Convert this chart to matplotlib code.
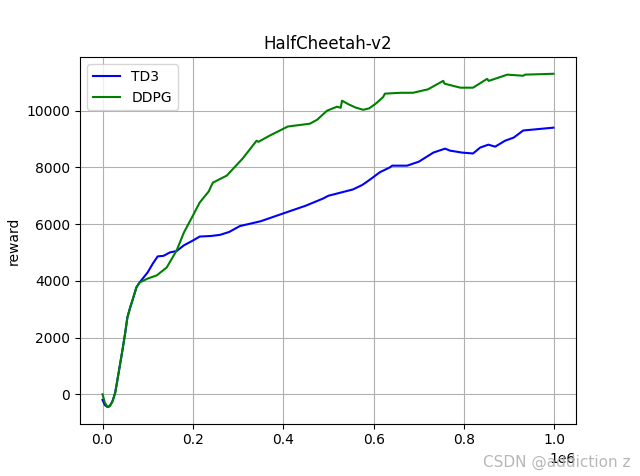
import matplotlib
matplotlib.use("Agg")
import matplotlib.pyplot as plt
import numpy as np

# values (timesteps in millions, mean reward)
td3_steps = [0.0, 0.005, 0.011, 0.016, 0.022, 0.028, 0.035, 0.044, 0.050, 0.055,
             0.061, 0.067, 0.075, 0.082, 0.100, 0.111, 0.122, 0.135, 0.149, 0.164,
             0.18, 0.20, 0.215, 0.24, 0.26, 0.28, 0.304, 0.35, 0.399, 0.45,
             0.488, 0.50, 0.510, 0.554, 0.575, 0.592, 0.614, 0.636, 0.641, 0.659,
             0.674, 0.70, 0.732, 0.758, 0.769, 0.796, 0.820, 0.836, 0.854, 0.869,
             0.891, 0.910, 0.931, 0.998]
td3_reward = [-200, -380, -450, -420, -250, 50, 700, 1550, 2150, 2710,
              3050, 3350, 3770, 3940, 4300, 4600, 4860, 4880, 5000, 5050,
              5250, 5420, 5560, 5580, 5620, 5720, 5930, 6100, 6370, 6650,
              6900, 7000, 7040, 7220, 7380, 7570, 7830, 8000, 8060, 8060,
              8060, 8200, 8520, 8660, 8590, 8520, 8490, 8700, 8800, 8730,
              8940, 9050, 9300, 9400]

ddpg_steps = [0.0, 0.005, 0.011, 0.016, 0.022, 0.028, 0.035, 0.044, 0.050, 0.055,
              0.061, 0.067, 0.075, 0.082, 0.100, 0.120, 0.142, 0.164, 0.18, 0.20,
              0.215, 0.235, 0.244, 0.275, 0.310, 0.341, 0.345, 0.370, 0.410, 0.459,
              0.475, 0.497, 0.519, 0.527, 0.530, 0.545, 0.56, 0.577, 0.59, 0.605,
              0.621, 0.625, 0.660, 0.687, 0.72, 0.754, 0.757, 0.792, 0.820, 0.851,
              0.855, 0.896, 0.931, 0.935, 0.998]
ddpg_reward = [0, -300, -450, -420, -250, 50, 700, 1550, 2150, 2710,
               3050, 3350, 3770, 3940, 4080, 4190, 4470, 5070, 5700, 6300,
               6760, 7150, 7460, 7710, 8310, 8940, 8900, 9120, 9440, 9540,
               9680, 10000, 10140, 10100, 10350, 10220, 10110, 10030, 10080, 10250,
               10480, 10600, 10630, 10630, 10750, 11050, 10950, 10810, 10810, 11120,
               11050, 11270, 11230, 11270, 11300]

fig, ax = plt.subplots(figsize=(6.4, 4.76), dpi=100)
ax.plot(np.array(td3_steps) * 1e6, td3_reward, color="blue", label="TD3")
ax.plot(np.array(ddpg_steps) * 1e6, ddpg_reward, color="green", label="DDPG")
ax.set_title("HalfCheetah-v2")
ax.set_ylabel("reward")
ax.grid(True)
ax.legend(loc="upper left")

# watermark present in the reference image
fig.text(0.985, 0.012, "CSDN @addiction z", ha="right", va="bottom",
         fontsize=11, color="#b0b0b0", alpha=0.9)

fig.savefig("out.png")
